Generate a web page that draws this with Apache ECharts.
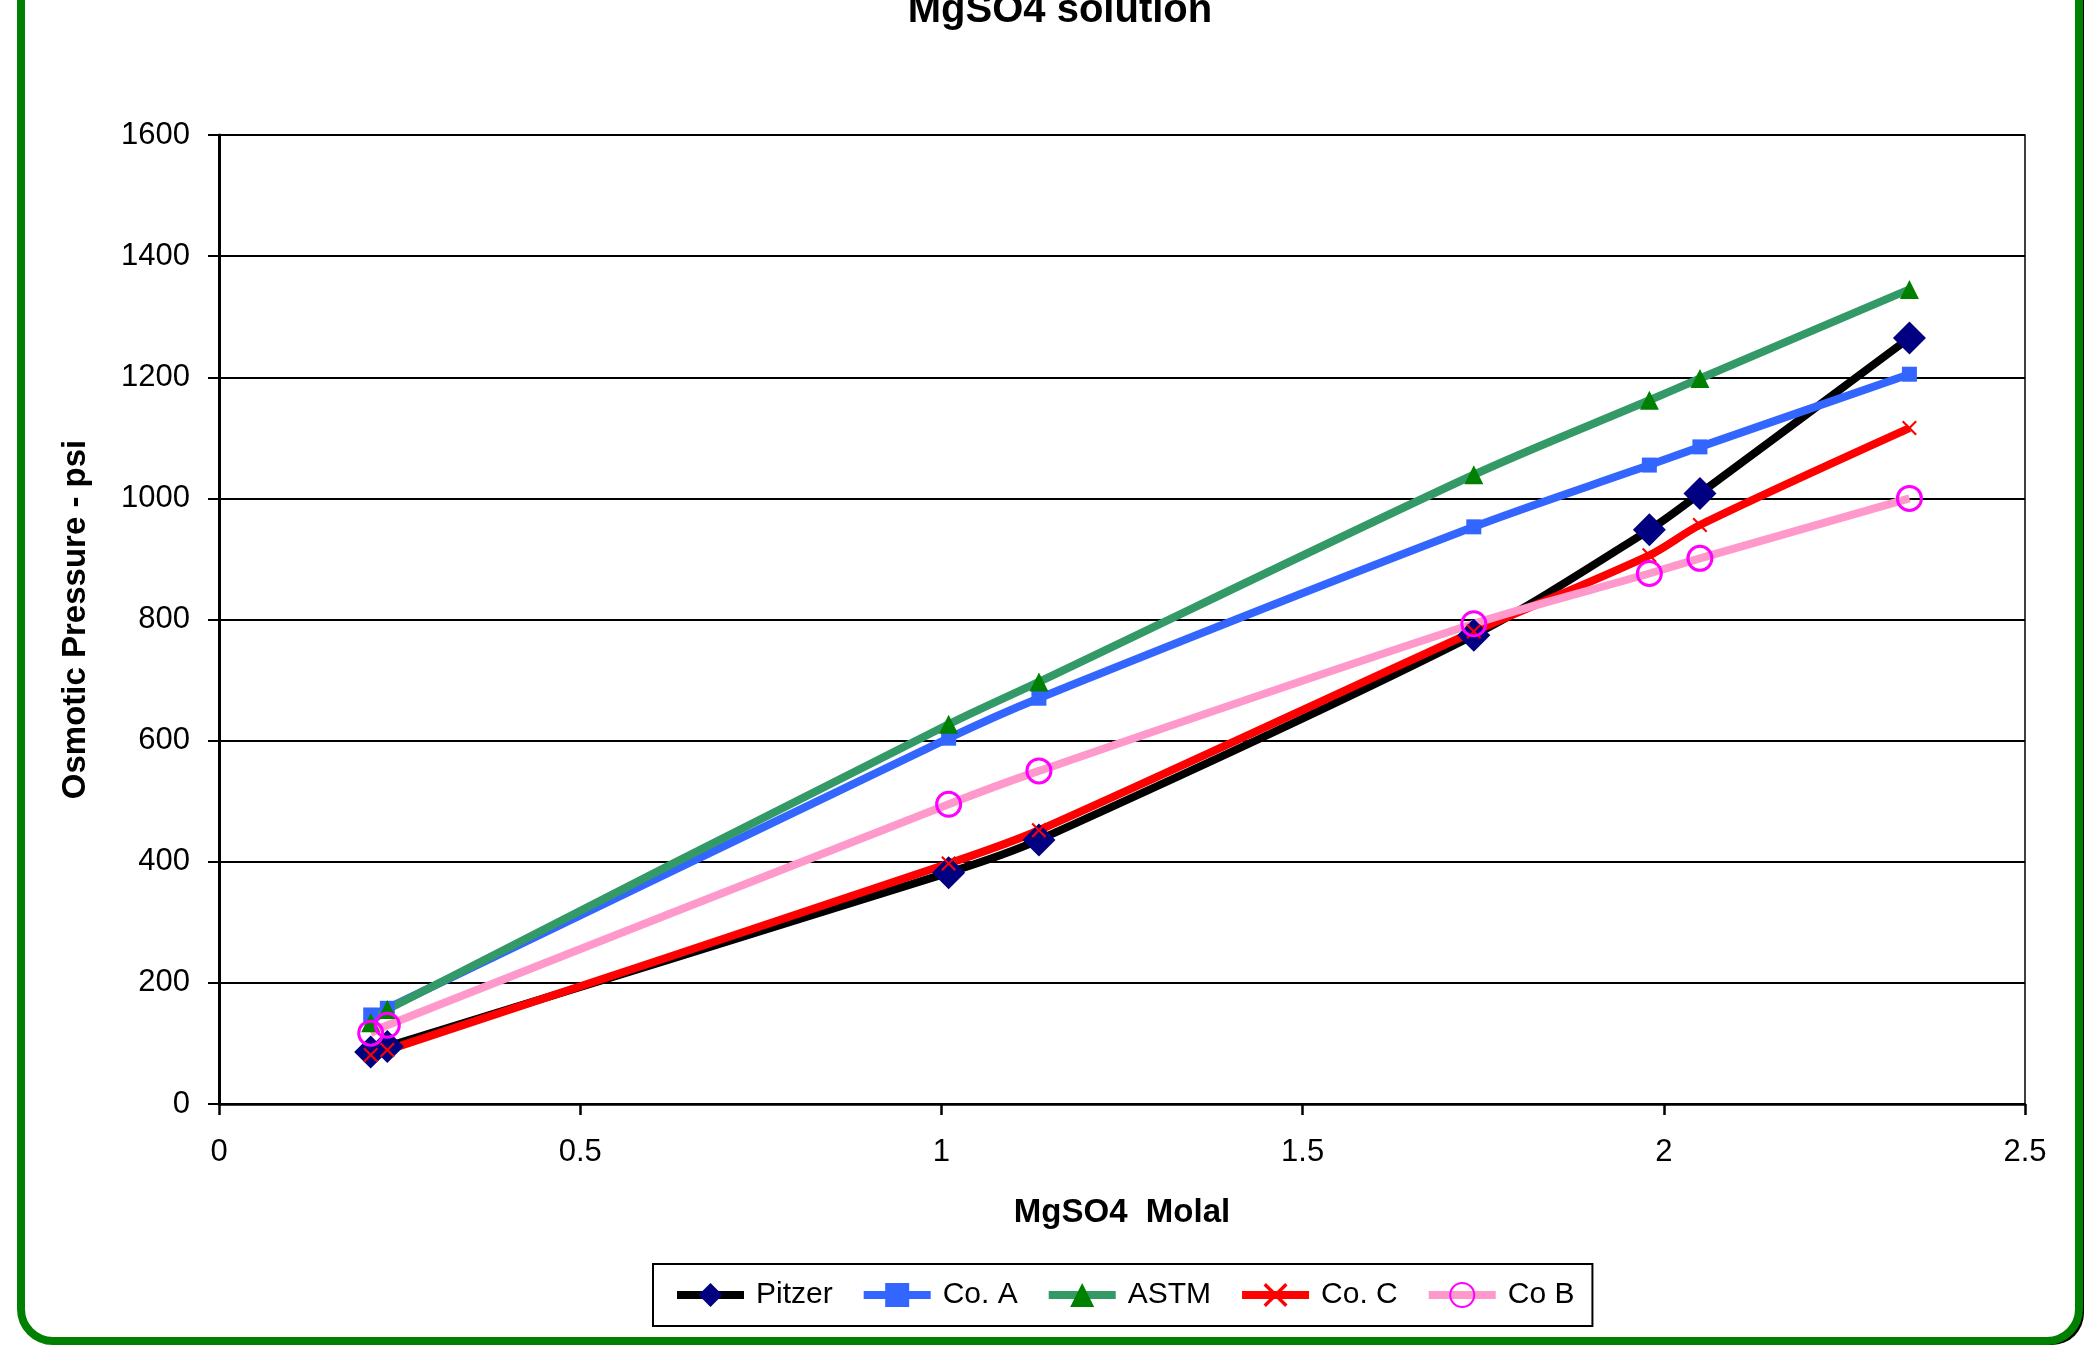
<!DOCTYPE html>
<html>
<head>
<meta charset="utf-8">
<title>MgSO4 solution</title>
<script src="https://cdn.jsdelivr.net/npm/echarts@6/dist/echarts.min.js"></script>
<style>
  html, body { margin: 0; padding: 0; background: #fff; }
  #chart { width: 2090px; height: 1346px; }
</style>
</head>
<body>
<div id="chart"></div>
<script>
// MgSO4 molality (x) shared by all series
var molal = [0.21, 0.233, 1.01, 1.135, 1.737, 1.98, 2.05, 2.34];

// osmotic pressure, psi
var pitzer = [86, 95, 382, 436, 774, 948, 1008, 1265];
var coA = [147, 158, 604, 670, 953, 1055, 1085, 1205];
var astm = [134, 156, 627, 697, 1039, 1162, 1198, 1345];
var coC = [81, 89, 397, 452, 780, 906, 956, 1116];
var coB = [117, 130, 495, 550, 793, 876, 901, 1000];

var seriesNames = ['Pitzer', 'Co. A', 'ASTM', 'Co. C', 'Co B'];
var xTicks = [0, 0.5, 1, 1.5, 2, 2.5];
var yTicks = [0, 200, 400, 600, 800, 1000, 1200, 1400, 1600];

var FONT = 'Liberation Sans';
var crossPath = 'path://M0,1L1,0L5,4L9,0L10,1L6,5L10,9L9,10L5,6L1,10L0,9L4,5Z';

function pairs(ys) {
    return molal.map(function (x, i) { return [x, ys[i]]; });
}

var chart = echarts.init(document.getElementById('chart'));

chart.setOption({
    animation: false,
    backgroundColor: '#fff',
    textStyle: { fontFamily: FONT },
    graphic: [
        {
            // shadow behind the chart frame
            type: 'rect', z: -20, silent: true,
            shape: { x: 26, y: -56, width: 2058, height: 1401, r: 32 },
            style: { fill: '#000' }
        },
        {
            type: 'rect', z: -10, silent: true,
            shape: { x: 21, y: -60, width: 2058, height: 1401, r: 32 },
            style: { fill: '#fff', stroke: '#008000', lineWidth: 8 }
        }
    ],
    title: {
        text: 'MgSO4 solution',
        left: 1055,
        textAlign: 'center',
        top: -14,
        textStyle: { fontFamily: FONT, fontSize: 40, fontWeight: 'bold', color: '#000' }
    },
    grid: {
        left: 219,
        right: 65,
        top: 135,
        bottom: 242,
        show: true,
        borderColor: '#000',
        borderWidth: 1.5,
        containLabel: false
    },
    legend: {
        data: seriesNames,
        left: 653,
        top: 1264,
        padding: [16, 18, 16, 20],
        itemGap: 27,
        itemWidth: 67,
        itemHeight: 30,
        borderColor: '#000',
        borderWidth: 2,
        lineStyle: { width: 8 },
        textStyle: { fontFamily: FONT, fontSize: 30, color: '#000', padding: [0, 0, 0, 7] }
    },
    xAxis: {
        type: 'value',
        min: xTicks[0],
        max: xTicks[xTicks.length - 1],
        interval: 0.5,
        name: 'MgSO4  Molal',
        nameLocation: 'middle',
        nameGap: 92,
        nameTextStyle: { fontFamily: FONT, fontSize: 33, fontWeight: 'bold', color: '#000' },
        axisLine: { lineStyle: { color: '#000', width: 2.5 } },
        axisTick: { show: true, inside: false, length: 11, lineStyle: { color: '#000', width: 2.5 } },
        axisLabel: { margin: 33, fontFamily: FONT, fontSize: 31, color: '#000' },
        splitLine: { show: false }
    },
    yAxis: {
        type: 'value',
        min: yTicks[0],
        max: yTicks[yTicks.length - 1],
        interval: 200,
        name: 'Osmotic Pressure - psi',
        nameLocation: 'middle',
        nameRotate: 90,
        nameGap: 127,
        nameTextStyle: { fontFamily: FONT, fontSize: 33, fontWeight: 'bold', color: '#000' },
        axisLine: { show: true, lineStyle: { color: '#000', width: 3 } },
        axisTick: { show: true, inside: false, length: 11, lineStyle: { color: '#000', width: 2 } },
        axisLabel: {
            margin: 29, fontFamily: FONT, fontSize: 31, color: '#000',
            formatter: function (v) { return String(v); }
        },
        splitLine: { show: true, lineStyle: { color: '#000', width: 2 } }
    },
    series: [
        {
            name: 'Pitzer', type: 'line', smooth: 0.3, data: pairs(pitzer),
            symbol: 'diamond', symbolSize: 33,
            lineStyle: { color: '#000', width: 8 },
            itemStyle: { color: '#000080' }
        },
        {
            name: 'Co. A', type: 'line', smooth: 0.3, data: pairs(coA),
            symbol: 'rect', symbolSize: 15,
            lineStyle: { color: '#3366ff', width: 8 },
            itemStyle: { color: '#3366ff' }
        },
        {
            name: 'ASTM', type: 'line', smooth: 0.3, data: pairs(astm),
            symbol: 'triangle', symbolSize: 19,
            lineStyle: { color: '#339966', width: 8 },
            itemStyle: { color: '#008000' }
        },
        {
            name: 'Co. C', type: 'line', smooth: 0.3, data: pairs(coC),
            symbol: crossPath, symbolSize: 15,
            lineStyle: { color: '#ff0000', width: 8 },
            itemStyle: { color: '#ff0000' }
        },
        {
            name: 'Co B', type: 'line', smooth: 0.3, data: pairs(coB),
            symbol: 'circle', symbolSize: 24,
            lineStyle: { color: '#ff99cc', width: 8 },
            itemStyle: { color: 'rgba(0,0,0,0)', borderColor: '#ff00ff', borderWidth: 3 }
        }
    ]
});
</script>
</body>
</html>
